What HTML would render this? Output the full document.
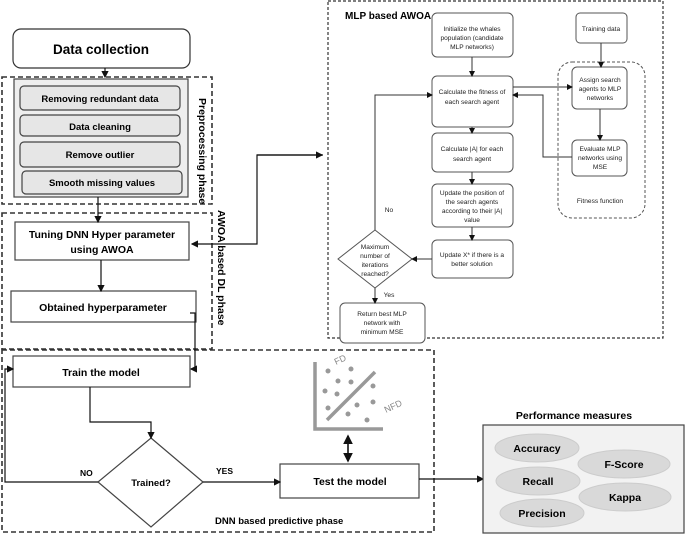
<!DOCTYPE html><html><head><style>body{margin:0;background:#fff}svg{display:block}</style></head><body>
<svg width="685" height="534" viewBox="0 0 685 534" xmlns="http://www.w3.org/2000/svg" font-family="Liberation Sans, sans-serif">
<defs><marker id="a" markerWidth="6" markerHeight="6" refX="5" refY="3" orient="auto"><path d="M0,0L6,3L0,6z" fill="#111"/></marker>
<marker id="b" markerWidth="6" markerHeight="6" refX="1" refY="3" orient="auto"><path d="M6,0L0,3L6,6z" fill="#111"/></marker></defs>
<g fill="none" stroke="#333" stroke-width="1.6" stroke-dasharray="5,3">
<rect x="2" y="77" width="210" height="127"/>
<rect x="2" y="213" width="210" height="136"/>
<rect x="328" y="1" width="335" height="337" stroke-width="1.2" stroke-dasharray="3,2"/>
<rect x="2" y="350" width="432" height="182"/>
</g>
<rect x="558" y="62" width="87" height="156" rx="14" fill="none" stroke="#555" stroke-dasharray="3,2"/>
<rect x="13" y="29" width="177" height="39" rx="8" fill="#fff" stroke="#333" stroke-width="1.2"/>
<text x="101" y="54" font-size="13.5" font-weight="bold" text-anchor="middle">Data collection</text>
<rect x="14" y="79" width="174" height="118" fill="#eee" stroke="#444" stroke-width="1.2"/>
<g fill="#e6e6e6" stroke="#444" stroke-width="1.2">
<rect x="20" y="86" width="160" height="24" rx="4"/><rect x="20" y="115" width="160" height="21" rx="4"/>
<rect x="20" y="142" width="160" height="25" rx="4"/><rect x="22" y="171" width="160" height="23" rx="4"/></g>
<g font-size="9.5" font-weight="bold" text-anchor="middle">
<text x="100" y="102">Removing redundant data</text><text x="100" y="130">Data cleaning</text>
<text x="100" y="158">Remove outlier</text><text x="102" y="186">Smooth missing values</text></g>
<text transform="translate(199,98) rotate(90)" font-size="10.5" font-weight="bold">Preprocessing phase</text>
<text transform="translate(218,210) rotate(90)" font-size="10.5" font-weight="bold">AWOA based DL phase</text>
<rect x="15" y="222" width="174" height="38" fill="#fff" stroke="#444" stroke-width="1.2"/>
<text x="102" y="238" font-size="10.5" font-weight="bold" text-anchor="middle">Tuning DNN Hyper parameter</text>
<text x="102" y="253" font-size="10.5" font-weight="bold" text-anchor="middle">using AWOA</text>
<rect x="11" y="291" width="185" height="31" fill="#fff" stroke="#444" stroke-width="1.2"/>
<text x="103" y="311" font-size="10.5" font-weight="bold" text-anchor="middle">Obtained hyperparameter</text>
<g stroke="#111" stroke-width="1.2" fill="none">
<path d="M105,68V77" marker-end="url(#a)"/><path d="M98,197V222" marker-end="url(#a)"/>
<path d="M101,260V291" marker-end="url(#a)"/>
<path d="M323,155H257V244H192" marker-end="url(#a)"/><path d="M257,155H322" marker-end="url(#a)"/>
<path d="M190,313H195V369H191" marker-end="url(#a)"/>
</g>
<text x="345" y="19" font-size="10" font-weight="bold">MLP based AWOA</text>
<g fill="#fff" stroke="#555" stroke-width="1">
<rect x="432" y="13" width="81" height="44" rx="5"/><rect x="576" y="13" width="51" height="30" rx="4"/>
<rect x="432" y="76" width="81" height="51" rx="5"/><rect x="572" y="67" width="55" height="42" rx="5"/>
<rect x="572" y="140" width="55" height="36" rx="5"/><rect x="432" y="133" width="81" height="39" rx="5"/>
<rect x="432" y="184" width="81" height="43" rx="5"/><rect x="432" y="240" width="81" height="38" rx="5"/>
<rect x="340" y="303" width="85" height="40" rx="5"/>
<path d="M375,230L412,259L375,288L338,259z"/></g>
<g font-size="6.6" text-anchor="middle" fill="#222">
<text x="472" y="31">Initialize the whales</text><text x="472" y="40">population (candidate</text><text x="472" y="49">MLP networks)</text>
<text x="601" y="31">Training data</text>
<text x="472" y="94">Calculate the fitness of</text><text x="472" y="104">each search agent</text>
<text x="600" y="82">Assign search</text><text x="600" y="91">agents to MLP</text><text x="600" y="100">networks</text>
<text x="600" y="151">Evaluate MLP</text><text x="600" y="160">networks  using</text><text x="600" y="169">MSE</text>
<text x="600" y="203">Fitness function</text>
<text x="472" y="151">Calculate |A| for each</text><text x="472" y="161">search agent</text>
<text x="472" y="195">Update the position of</text><text x="472" y="204">the search agents</text><text x="472" y="213">according to their |A|</text><text x="472" y="222">value</text>
<text x="472" y="257">Update X* if there is a</text><text x="472" y="266">better solution</text>
<text x="375" y="249">Maximum</text><text x="375" y="258">number of</text><text x="375" y="267">iterations</text><text x="375" y="276">reached?</text>
<text x="382" y="316">Return best MLP</text><text x="382" y="325">network with</text><text x="382" y="334">minimum MSE</text>
<text x="389" y="212">No</text><text x="389" y="297">Yes</text></g>
<g stroke="#333" stroke-width="1" fill="none">
<path d="M472,57V76" marker-end="url(#a)"/><path d="M601,43V67" marker-end="url(#a)"/>
<path d="M513,87H572" marker-end="url(#a)"/><path d="M600,109V140" marker-end="url(#a)"/>
<path d="M572,157H543V95H513" marker-end="url(#a)"/>
<path d="M472,127V133" marker-end="url(#a)"/><path d="M472,172V184" marker-end="url(#a)"/>
<path d="M472,227V240" marker-end="url(#a)"/><path d="M432,259H412" marker-end="url(#a)"/>
<path d="M375,230V95H432" marker-end="url(#a)"/><path d="M375,288V303" marker-end="url(#a)"/>
</g>
<rect x="13" y="356" width="177" height="31" fill="#fff" stroke="#444" stroke-width="1.2"/>
<text x="101" y="376" font-size="10.5" font-weight="bold" text-anchor="middle">Train the model</text>
<path d="M151,438L203,482L151,527L98,482z" fill="#fff" stroke="#444" stroke-width="1.2"/>
<text x="151" y="486" font-size="9.5" font-weight="bold" text-anchor="middle">Trained?</text>
<rect x="280" y="464" width="139" height="34" fill="#fff" stroke="#444" stroke-width="1.2"/>
<text x="350" y="485" font-size="10.5" font-weight="bold" text-anchor="middle">Test the model</text>
<g font-size="8.5" font-weight="bold"><text x="80" y="476">NO</text><text x="216" y="474">YES</text>
<text x="215" y="524" font-size="9.5">DNN based predictive phase</text>
<text x="574" y="419" font-size="10.5" text-anchor="middle">Performance measures</text></g>
<g stroke="#111" stroke-width="1.2" fill="none">
<path d="M90,387V422H151V438" marker-end="url(#a)"/>
<path d="M98,482H5V369H13" marker-end="url(#a)"/>
<path d="M203,482H280" marker-end="url(#a)"/>
<path d="M419,479H483" marker-end="url(#a)"/>
<path d="M348,436V461" stroke-width="1.6" marker-end="url(#a)" marker-start="url(#b)"/>
</g>
<g stroke="#999" stroke-width="3.5" fill="none"><path d="M315,362V429H383"/><path d="M327,420L375,372"/></g>
<g fill="#999"><circle cx="328" cy="371" r="2.5"/><circle cx="351" cy="369" r="2.5"/><circle cx="338" cy="381" r="2.5"/><circle cx="351" cy="382" r="2.5"/><circle cx="325" cy="391" r="2.5"/><circle cx="337" cy="394" r="2.5"/><circle cx="373" cy="386" r="2.5"/><circle cx="328" cy="408" r="2.5"/><circle cx="348" cy="414" r="2.5"/><circle cx="357" cy="405" r="2.5"/><circle cx="373" cy="402" r="2.5"/><circle cx="367" cy="420" r="2.5"/></g>
<text transform="translate(336,365) rotate(-25)" font-size="9" fill="#888">FD</text>
<text transform="translate(386,413) rotate(-25)" font-size="9" fill="#888">NFD</text>
<rect x="483" y="425" width="201" height="108" fill="#f2f2f2" stroke="#444" stroke-width="1.2"/>
<g fill="#d9d9d9" stroke="#ccc"><ellipse cx="537" cy="448" rx="42" ry="14"/><ellipse cx="624" cy="464" rx="46" ry="14"/>
<ellipse cx="538" cy="481" rx="42" ry="14"/><ellipse cx="625" cy="497" rx="46" ry="14"/><ellipse cx="542" cy="513" rx="42" ry="14"/></g>
<g font-size="10.5" font-weight="bold" text-anchor="middle"><text x="537" y="452">Accuracy</text><text x="624" y="468">F-Score</text>
<text x="538" y="485">Recall</text><text x="625" y="501">Kappa</text><text x="542" y="517">Precision</text></g>
</svg></body></html>
